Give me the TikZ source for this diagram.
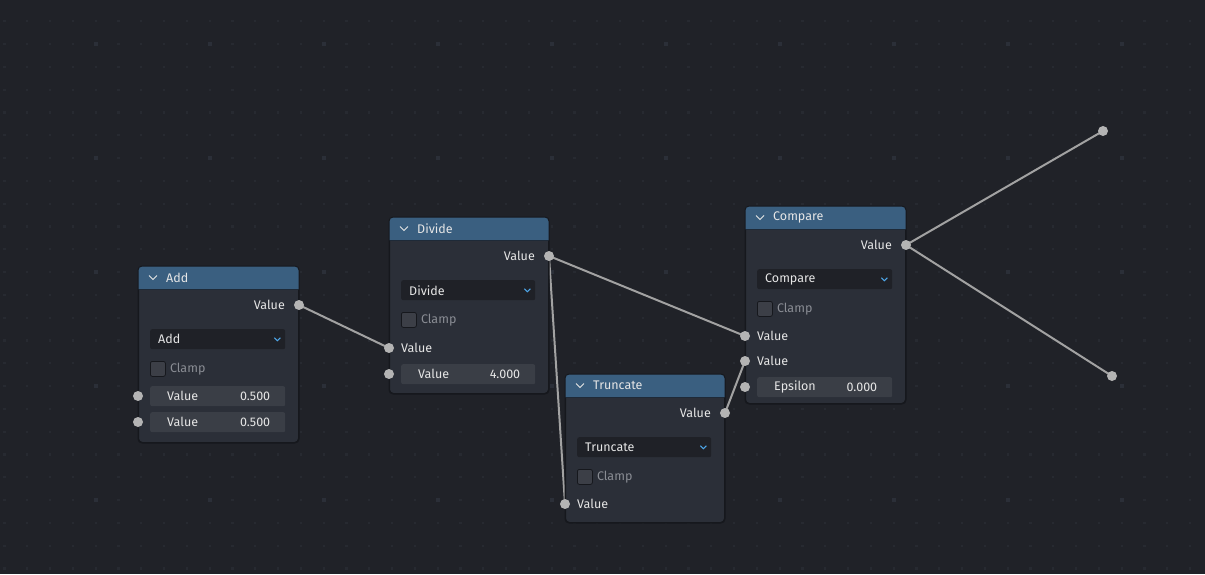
\documentclass[tikz,border=0pt]{standalone}
\usepackage{fontspec}
\setmainfont{Fira Sans}
\usetikzlibrary{calc}
\definecolor{bgc}{HTML}{202228}
\definecolor{gridc}{HTML}{272A31}
\definecolor{gridbig}{HTML}{2B2F38}
\definecolor{bodyc}{HTML}{2B2F38}
\definecolor{headc}{HTML}{3A5F80}
\definecolor{sepc}{HTML}{1E2A38}
\definecolor{borderc}{HTML}{16181D}
\definecolor{dropc}{HTML}{1F2127}
\definecolor{fieldc}{HTML}{3A3E46}
\definecolor{chkc}{HTML}{3C3F47}
\definecolor{txtc}{HTML}{E6E6E6}
\definecolor{dimc}{HTML}{8A8D94}
\definecolor{sockc}{HTML}{B4B4B4}
\definecolor{linkc}{HTML}{A2A2A2}
\definecolor{chevc}{HTML}{4EA6E8}
\pgfdeclarelayer{grid}
\pgfdeclarelayer{links}
\pgfsetlayers{grid,links,main}
\tikzset{
  nodebody/.style={fill=bodyc, draw=borderc, line width=1pt, rounded corners=4pt, inner sep=0pt, anchor=north west},
  socket/.style={circle, fill=sockc, inner sep=0pt, minimum size=10pt},
  link/.style={draw=linkc, line width=2pt},
  lbl/.style={inner sep=0pt, text=txtc},
  dimlbl/.style={inner sep=0pt, text=dimc},
  dropbox/.style={fill=dropc, rounded corners=2pt, inner sep=0pt, anchor=north west, minimum height=20pt},
  fieldbox/.style={fill=fieldc, rounded corners=2pt, inner sep=0pt, anchor=north west, minimum height=20pt},
  chkbox/.style={fill=chkc, draw=borderc, line width=0.8pt, rounded corners=2pt, inner sep=0pt, anchor=north west, minimum size=15pt},
}
% #1 name, #2 x, #3 y, #4 w, #5 h, #6 title
\newcommand{\gnode}[6]{%
  \node[nodebody, minimum width=#4pt, minimum height=#5pt] (#1) at (#2,#3) {};
  \begin{scope}
    \clip[rounded corners=4pt] (#1.north west) rectangle (#1.south east);
    \fill[headc] (#1.north west) rectangle ([yshift=-23pt]#1.north east);
    \draw[sepc, line width=1pt] ([yshift=-23pt]#1.north west) -- ([yshift=-23pt]#1.north east);
  \end{scope}
  \draw[borderc, line width=1pt, rounded corners=4pt] (#1.north west) rectangle (#1.south east);
  \draw[txtc, line width=0.8pt] ([xshift=11pt,yshift=-9.5pt]#1.north west) -- ([xshift=15pt,yshift=-13.5pt]#1.north west) -- ([xshift=19pt,yshift=-9.5pt]#1.north west);
  \node[lbl, anchor=west] (#1-title) at ([xshift=28pt,yshift=-11.5pt]#1.north west) {#6};
  \node[socket] (#1-out) at ([yshift=-39pt]#1.north east) {};
  \node[lbl, anchor=east] (#1-outlbl) at ([xshift=-14pt,yshift=-39pt]#1.north east) {Value};
  \node[dropbox, minimum width=#4pt-25pt] (#1-drop) at ([xshift=12pt,yshift=-63pt]#1.north west) {};
  \node[lbl, anchor=west] (#1-droptxt) at ([xshift=8pt]#1-drop.west) {#6};
  \draw[chevc, line width=1.1pt] ([xshift=-11pt,yshift=1.5pt]#1-drop.east) -- ([xshift=-8pt,yshift=-1.5pt]#1-drop.east) -- ([xshift=-5pt,yshift=1.5pt]#1-drop.east);
  \node[chkbox] (#1-chk) at ([xshift=12pt,yshift=-95pt]#1.north west) {};
  \node[dimlbl, anchor=west] (#1-clamp) at ([xshift=4pt]#1-chk.east) {Clamp};
}
% plain input row: #1 node, #2 socket name, #3 y offset
\newcommand{\ginput}[3]{%
  \node[socket] (#2) at ([yshift=-#3pt]#1.north west) {};
  \node[lbl, anchor=west] (#2-lbl) at ([xshift=12pt,yshift=-#3pt]#1.north west) {Value};
}
% field input row: #1 node, #2 socket name, #3 y offset, #4 width, #5 label, #6 value
\newcommand{\gfield}[6]{%
  \node[socket] (#2) at ([yshift=-#3pt]#1.north west) {};
  \node[fieldbox, minimum width=#4pt-25pt] (#2-fld) at ([xshift=12pt,yshift=-#3pt+10pt]#1.north west) {};
  \node[lbl, anchor=west] (#2-lbl) at ([xshift=17pt]#2-fld.west) {#5};
  \node[lbl, anchor=east] (#2-val) at ([xshift=-15pt]#2-fld.east) {#6};
}
\begin{document}
\begin{tikzpicture}[x=1pt, y=-1pt, font=\fontsize{12.5}{14}\selectfont]
\useasboundingbox (0,0) rectangle (1205,574);
\begin{pgfonlayer}{grid}
  \fill[bgc] (0,0) rectangle (1205,574);
  \foreach \i in {0,...,52} {
    \foreach \j in {0,...,24} {
      \pgfmathsetmacro{\gx}{4.5+22.8*\i}
      \pgfmathsetmacro{\gy}{21.3+22.8*\j}
      \pgfmathtruncatemacro{\bi}{mod(\i,5)}
      \pgfmathtruncatemacro{\bj}{mod(\j,5)}
      \ifnum\bi=4 \ifnum\bj=1
        \fill[gridbig] (\gx-1.8,\gy-1.8) rectangle (\gx+1.8,\gy+1.8);
      \else
        \fill[gridc] (\gx-1.1,\gy-1.1) rectangle (\gx+1.1,\gy+1.1);
      \fi\else
        \fill[gridc] (\gx-1.1,\gy-1.1) rectangle (\gx+1.1,\gy+1.1);
      \fi
    }
  }
\end{pgfonlayer}

\gnode{add}{138}{266}{160}{176}{Add}
\gfield{add}{add-in1}{130}{160}{Value}{0.500}
\gfield{add}{add-in2}{156}{160}{Value}{0.500}

\gnode{div}{389}{217}{159}{176}{Divide}
\ginput{div}{div-in1}{131}
\gfield{div}{div-in2}{157}{159}{Value}{4.000}

\gnode{trunc}{565}{374}{159}{148}{Truncate}
\ginput{trunc}{trunc-in1}{130}

\gnode{cmp}{745}{206}{160}{197}{Compare}
\ginput{cmp}{cmp-in1}{130}
\ginput{cmp}{cmp-in2}{155}
\gfield{cmp}{cmp-in3}{181}{160}{Epsilon}{0.000}

\node[socket] (end1) at (1103,131) {};
\node[socket] (end2) at (1112,376) {};

\begin{pgfonlayer}{links}
  \draw[link] (add-out.center) -- (div-in1.center);
  \draw[link] (div-out.center) -- (cmp-in1.center);
  \draw[link] (div-out.center) -- (trunc-in1.center);
  \draw[link] (trunc-out.center) -- (cmp-in2.center);
  \draw[link] (cmp-out.center) -- (end1.center);
  \draw[link] (cmp-out.center) -- (end2.center);
\end{pgfonlayer}
\end{tikzpicture}
\end{document}
